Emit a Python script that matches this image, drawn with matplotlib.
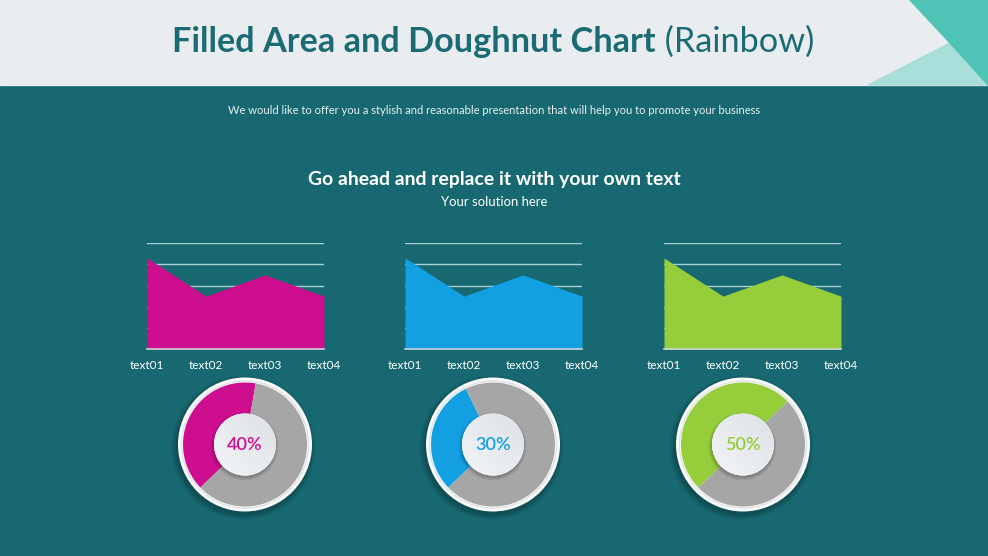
import matplotlib
matplotlib.use("Agg")
import matplotlib.pyplot as plt
import numpy as np
from matplotlib.patches import Polygon, Circle, Rectangle
from matplotlib.colors import LinearSegmentedColormap

# ---------------- data ----------------
categories = ["text01", "text02", "text03", "text04"]
area_values = [4.3, 2.5, 3.5, 2.5]
y_max = 5
percents = [40, 30, 50]
series_colors = ["#cc0e8f", "#12a0e3", "#96cd3a"]
remainder_color = "#a6a6a6"

title_bold = "Filled Area and Doughnut Chart"
title_normal = " (Rainbow)"
subtitle = "We would like to offer you a stylish and reasonable presentation that will help you to promote your business"
heading = "Go ahead and replace it with your own text"
subheading = "Your solution here"

W, H = 988, 556
FONT = ["Lato", "DejaVu Sans"]
plt.rcParams["font.family"] = FONT

fig = plt.figure(figsize=(W / 100, H / 100), dpi=100)
bg = fig.add_axes([0, 0, 1, 1])
bg.set_xlim(0, W)
bg.set_ylim(H, 0)
bg.axis("off")

TEAL = "#176870"
bg.add_patch(Rectangle((0, 0), W, H, color=TEAL, zorder=0))
bg.add_patch(Rectangle((0, 0), W, 85, color="#e9edf0", zorder=1))
bg.add_patch(Polygon([(868, 85), (950, 43), (988, 85)], closed=True, color="#a9dfd8", zorder=2))
bg.add_patch(Polygon([(910, 0), (988, 0), (988, 85), (950, 43)], closed=True, color="#4fc4b6", zorder=2))

# title (two weights, centred together)
t1 = bg.text(0, 42, title_bold, fontsize=24, fontweight="bold", color="#1a6b73", va="center", ha="left", zorder=3)
t2 = bg.text(0, 42, title_normal, fontsize=24, color="#1a6b73", va="center", ha="left", zorder=3)
t_sub = bg.text(494, 110, subtitle, fontsize=8.5, color="#e8f0f0", va="center", ha="center", zorder=3)
t_head = bg.text(494, 179, heading, fontsize=13.5, fontweight="bold", color="white", va="center", ha="center", zorder=3)
t_sh = bg.text(494, 202, subheading, fontsize=10, color="white", va="center", ha="center", zorder=3)

fig.canvas.draw()
r = fig.canvas.get_renderer()

def fit(t, target):
    w = t.get_window_extent(r).width
    t.set_fontsize(t.get_fontsize() * target / w)

fit(t_sub, 532)
fit(t_head, 371)
fit(t_sh, 107)
w1 = t1.get_window_extent(r).width
w2 = t2.get_window_extent(r).width
s = 643 / (w1 + w2)
t1.set_fontsize(24 * s)
t2.set_fontsize(24 * s)
x0 = 172
t1.set_x(x0)
t2.set_x(x0 + w1 * s)

# ---------------- area charts ----------------
chart_lefts = [147, 405, 664]
chart_w = 177
top_px, bot_px = 243, 349.3
xs = list(range(len(categories)))
for left, col in zip(chart_lefts, series_colors):
    ax = fig.add_axes([left / W, 1 - bot_px / H, chart_w / W, (bot_px - top_px) / H])
    ax.set_facecolor("none")
    ax.set_xlim(0, len(categories) - 1)
    ax.set_ylim(0, y_max)
    for v in range(1, y_max + 1):
        ax.axhline(v, color="#a8cfd2", lw=1.0, zorder=1)
    ax.fill_between(xs, area_values, 0, color=col, lw=0, zorder=2)
    ax.axhline(0, color="#c9d3d6", lw=1.2, zorder=3, clip_on=False)
    for sp in ax.spines.values():
        sp.set_visible(False)
    ax.set_yticks([])
    ax.set_xticks(xs)
    ax.set_xticklabels(categories, fontsize=8.5, color="white")
    ax.tick_params(axis="x", length=0, pad=7.5)

# ---------------- doughnuts ----------------
centers = [245, 493, 743]
cy = 444.5
half = 78
disc_cmap = LinearSegmentedColormap.from_list("disc", ["#f3f5f7", "#dde1e6"])
gy, gx = np.mgrid[-1:1:64j, -1:1:64j]
grad = (gx - gy) / 2.0  # light top-left -> darker bottom-right
for cx, pct, col in zip(centers, percents, series_colors):
    ax = fig.add_axes([(cx - half) / W, 1 - (cy + half) / H, 2 * half / W, 2 * half / H])
    ax.set_facecolor("none")
    wedges, _ = ax.pie([pct, 100 - pct], colors=[col, remainder_color], radius=62,
                       startangle=224, counterclock=False,
                       wedgeprops=dict(width=31, lw=0))
    ax.set_xlim(-half, half)
    ax.set_ylim(-half, half)
    ax.set_aspect("equal")
    ax.axis("off")
    for w in wedges:
        w.set_zorder(2)
    # soft shadow of the outer white ring (towards lower-left)
    for k in range(6):
        ax.add_patch(Circle((-1.5, -3), 67 + 5 - k, color="black", alpha=0.045, lw=0, zorder=0))
    ax.add_patch(Circle((0, 0), 67, color="#fafbfb", lw=0, zorder=1))
    ax.add_patch(Circle((0, 0), 63.5, fill=False, ec="#dfe3e6", lw=1.0, zorder=1.5))
    # inner disc shadow + gradient disc
    for k in range(4):
        ax.add_patch(Circle((-0.5, -2), 31 + 3 - k, color="black", alpha=0.06, lw=0, zorder=3))
    disc = Circle((0, 0), 31, color="#e9ecf0", lw=0, zorder=4)
    ax.add_patch(disc)
    im = ax.imshow(grad, cmap=disc_cmap, extent=(-31, 31, -31, 31), origin="upper",
                   zorder=4.5, interpolation="bilinear")
    im.set_clip_path(disc)
    ax.set_xlim(-half, half)
    ax.set_ylim(-half, half)
    ax.text(0, -0.5, f"{pct}%", fontsize=13, fontweight="semibold", color=col,
            ha="center", va="center", zorder=5)

fig.savefig("out.png", dpi=100, facecolor=TEAL)
